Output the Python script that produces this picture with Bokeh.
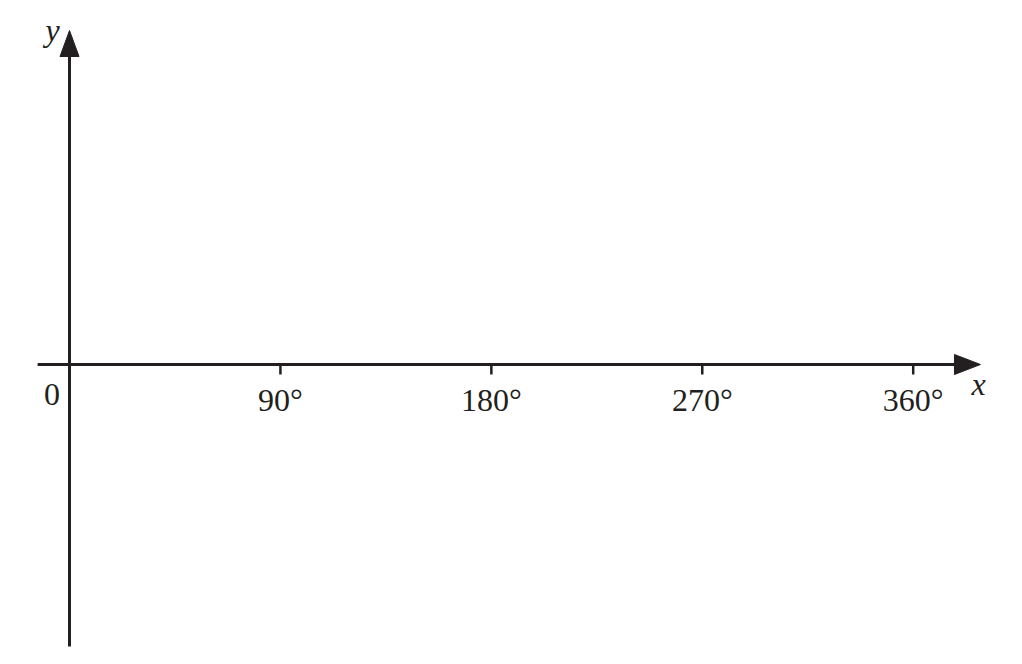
from bokeh.plotting import figure
from bokeh.models import Range1d
from bokeh.core.properties import value
from bokeh.embed import file_html
from bokeh.resources import INLINE

# tick positions (degrees) and their labels
tick_deg = [90, 180, 270, 360]
tick_labels = ["90°", "180°", "270°", "360°"]
origin_label = "0"

# axis extents: x in degrees, y in screen-like units (x-axis at y=0)
x_axis_start, x_axis_end = -13.6, 388.7
y_axis_bottom, y_axis_top = -282, 334

ink = "#231f20"
font = value("Liberation Serif")

# pixels per degree along x, used to size arrowheads and label offsets
px_per_deg = 843.7 / 360

p = figure(width=1006, height=648, output_backend="svg", toolbar_location=None,
           x_range=Range1d(-69 / px_per_deg, 937 / px_per_deg),
           y_range=Range1d(-284, 364), min_border=0)
p.axis.visible = False
p.grid.visible = False
p.outline_line_color = None

head_len = 26
head_half = 9.5

# x-axis line and arrowhead
p.line([x_axis_start, x_axis_end - head_len / px_per_deg], [0, 0],
       line_width=3, line_color=ink)
p.patch([x_axis_end, x_axis_end - head_len / px_per_deg, x_axis_end - head_len / px_per_deg],
        [0, head_half + 0.5, -head_half - 0.5], fill_color=ink, line_color=ink, line_width=1)

# y-axis line and arrowhead
p.line([0, 0], [y_axis_bottom, y_axis_top - head_len], line_width=3, line_color=ink)
p.patch([0, -head_half / px_per_deg, head_half / px_per_deg],
        [y_axis_top, y_axis_top - head_len, y_axis_top - head_len],
        fill_color=ink, line_color=ink, line_width=1)

# tick marks below the x-axis
p.segment(x0=tick_deg, y0=[0] * len(tick_deg), x1=tick_deg, y1=[-10] * len(tick_deg),
          line_width=2.5, line_color=ink)

# tick labels
p.text(x=tick_deg, y=[-35] * len(tick_deg), text=tick_labels, text_font=font,
       text_font_size="32px", text_align="center", text_baseline="alphabetic",
       text_color=ink)
p.text(x=[-17.5 / px_per_deg], y=[-30], text=[origin_label], text_font=font,
       text_font_size="32px", text_align="center", text_baseline="alphabetic",
       text_color=ink)

# axis names
p.text(x=[x_axis_end - 9 / px_per_deg], y=[-19], text=["x"], text_font=font,
       text_font_style="italic", text_font_size="32px", text_align="left",
       text_baseline="alphabetic", text_color=ink)
p.text(x=[-24 / px_per_deg], y=[335], text=["y"], text_font=font,
       text_font_style="italic", text_font_size="32px", text_align="left",
       text_baseline="alphabetic", text_color=ink)

open("out.html", "w").write(file_html(p, INLINE))
